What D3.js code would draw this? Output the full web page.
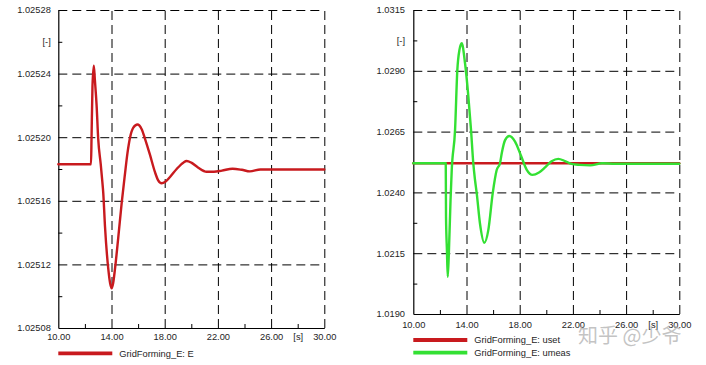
<!DOCTYPE html>
<html><head><meta charset="utf-8">
<script src="https://cdn.jsdelivr.net/npm/d3@7"></script>
<style>
html,body{margin:0;padding:0;background:#fff;}
svg{display:block;font-family:"Liberation Sans",Arial,sans-serif;}
</style></head>
<body>
<svg id="c" width="706" height="365"></svg>
<script>
// ---------- data ----------
const xTickValues = [10, 14, 18, 22, 26, 28, 30];
const xTickLabels = ["10.00", "14.00", "18.00", "22.00", "26.00", "[s]", "30.00"];
const xMinorTicks = [12, 16, 20, 24, 28];
const xGrid = [14, 18, 22, 26, 30];

// left chart: GridForming_E: E
const leftYTicks = [1.02528, 1.02526, 1.02524, 1.02520, 1.02516, 1.02512, 1.02508];
const leftYLabels = ["1.02528", "[-]", "1.02524", "1.02520", "1.02516", "1.02512", "1.02508"];
const leftYMinor = [1.02526, 1.02522, 1.02518, 1.02514, 1.02510];
const leftYGrid = [1.02528, 1.02524, 1.02520, 1.02516, 1.02512];
const eTime = [10, 12.46, 12.5, 12.57, 12.67, 12.75, 12.88, 13.0, 13.19, 13.3, 13.38, 13.51, 13.76, 13.9, 14.01, 14.12, 14.26, 14.51, 14.77, 15.0, 15.2, 15.4, 15.64, 15.95, 16.27, 16.52, 16.89, 17.27, 17.5, 17.77, 18.05, 18.4, 18.9, 19.4, 19.65, 20.0, 20.5, 21.15, 21.7, 22.3, 23.1, 23.8, 24.4, 25.2, 30];
const eValue = [1.025183, 1.025183, 1.025200, 1.025232, 1.025245, 1.025236, 1.025220, 1.025199, 1.025183, 1.025173, 1.025165, 1.025144, 1.025117, 1.025108, 1.025105, 1.025108, 1.025117, 1.025137, 1.025159, 1.025176, 1.025190, 1.025200, 1.025206, 1.025208, 1.025205, 1.025199, 1.025189, 1.025178, 1.025173, 1.025171, 1.025172, 1.025175, 1.025180, 1.025184, 1.025185, 1.025184, 1.025181, 1.0251783, 1.0251783, 1.025179, 1.0251802, 1.0251795, 1.0251785, 1.0251797, 1.0251797];

// right chart: uset / umeas
const rightYTicks = [1.0315, 1.03025, 1.0290, 1.0265, 1.0240, 1.0215, 1.0190];
const rightYLabels = ["1.0315", "[-]", "1.0290", "1.0265", "1.0240", "1.0215", "1.0190"];
const rightYMinor = [1.03025, 1.02775, 1.02525, 1.02275, 1.02025];
const rightYGrid = [1.0315, 1.0290, 1.0265, 1.0240, 1.0215];
const usetTime = [10, 30];
const usetValue = [1.0252, 1.0252];
const umeasTime = [10, 12.44, 12.46, 12.53, 12.59, 12.68, 12.8, 12.89, 13.14, 13.31, 13.47, 13.64, 13.89, 14.14, 14.34, 14.51, 14.64, 14.77, 15.01, 15.34, 15.64, 15.97, 16.27, 16.52, 16.65, 16.9, 17.22, 17.65, 18.09, 18.52, 18.96, 19.45, 19.93, 20.4, 20.9, 21.4, 21.9, 22.5, 23.3, 24.2, 25.2, 30];
const umeasValue = [1.0252, 1.0252, 1.0230, 1.0216, 1.02053, 1.0216, 1.02369, 1.02492, 1.02657, 1.02903, 1.02986, 1.03013, 1.02931, 1.02794, 1.02657, 1.0252, 1.02451, 1.02396, 1.02273, 1.02193, 1.02245, 1.02396, 1.02492, 1.0252, 1.02561, 1.02615, 1.02632, 1.02609, 1.02552, 1.02494, 1.02472, 1.02482, 1.02504, 1.02528, 1.02538, 1.02529, 1.02517, 1.02513, 1.02511, 1.0252, 1.02518, 1.02518];

const legendLeft = ["GridForming_E: E"];
const legendRight = ["GridForming_E: uset", "GridForming_E: umeas"];

// ---------- styles ----------
const RED = "#c81a1e", GREEN = "#33e033";
const FONT = 9.3, TXT = "#1e1e1e";
const svg = d3.select("#c");

function panel(o) {
  const x = d3.scaleLinear().domain([10, 30]).range([o.x0, o.x1]);
  const y = d3.scaleLinear().domain(o.yDomain).range([o.y1, o.y0]);
  const g = svg.append("g");
  const w = o.x1 - o.x0, h = o.y1 - o.y0;

  // dashed grid
  g.append("g").attr("transform", `translate(${o.x0},0)`)
    .call(d3.axisLeft(y).tickValues(o.yGrid).tickSize(-w).tickFormat(""))
    .call(s => { s.select(".domain").remove(); s.selectAll("line").attr("stroke", "#000").attr("stroke-dasharray", "9,5"); });
  g.append("g").attr("transform", `translate(0,${o.y1})`)
    .call(d3.axisBottom(x).tickValues(xGrid).tickSize(-h).tickFormat(""))
    .call(s => { s.select(".domain").remove(); s.selectAll("line").attr("stroke", "#000").attr("stroke-dasharray", "9,5"); });

  // minor ticks (inward)
  g.append("g").attr("transform", `translate(${o.x0},0)`)
    .call(d3.axisLeft(y).tickValues(o.yMinor).tickSize(-4).tickFormat(""))
    .call(s => { s.select(".domain").remove(); s.selectAll("line").attr("stroke", "#000"); });
  g.append("g").attr("transform", `translate(0,${o.y1})`)
    .call(d3.axisBottom(x).tickValues(xMinorTicks).tickSize(-4).tickFormat(""))
    .call(s => { s.select(".domain").remove(); s.selectAll("line").attr("stroke", "#000"); });

  // axis lines + labels
  g.append("g").attr("transform", `translate(${o.x0},0)`)
    .call(d3.axisLeft(y).tickValues(o.yTicks).tickSize(0).tickPadding(o.yPad)
      .tickFormat((d, i) => o.yLabels[i]))
    .call(s => {
      s.select(".domain").attr("stroke", "#000").attr("stroke-width", 1.2);
      s.selectAll("text").attr("font-size", FONT).attr("fill", TXT).attr("font-family", "Liberation Sans, Arial, sans-serif");
    });
  g.append("g").attr("transform", `translate(0,${o.y1})`)
    .call(d3.axisBottom(x).tickValues(xTickValues).tickSize(0).tickPadding(o.xPad)
      .tickFormat((d, i) => xTickLabels[i]))
    .call(s => {
      s.select(".domain").attr("stroke", "#000").attr("stroke-width", 1.2);
      s.selectAll("text").attr("font-size", FONT).attr("fill", TXT).attr("font-family", "Liberation Sans, Arial, sans-serif");
    });

  const line = d3.line().x(d => x(d[0])).y(d => y(d[1])).curve(d3.curveMonotoneX);
  o.series.forEach(sr => {
    const pts = sr.t.map((t, i) => [t, sr.v[i]]);
    g.append("path").attr("d", line(pts)).attr("fill", "none")
      .attr("stroke", sr.color).attr("stroke-width", 2.4)
      .attr("stroke-linejoin", "round").attr("stroke-linecap", "round");
  });

  // legend
  o.legend.forEach((lab, i) => {
    const ly = o.legY + i * o.legStep;
    g.append("line").attr("x1", o.x0).attr("x2", o.x0 + 54).attr("y1", ly).attr("y2", ly)
      .attr("stroke", o.legColors[i]).attr("stroke-width", 3.8);
    g.append("text").attr("x", o.x0 + 61).attr("y", ly).attr("dy", "0.35em")
      .attr("font-size", FONT).attr("fill", TXT).text(lab);
  });
}

panel({
  x0: 58.3, x1: 324.3, y0: 10, y1: 328,
  yDomain: [1.02508, 1.02528], yTicks: leftYTicks, yLabels: leftYLabels,
  yMinor: leftYMinor, yGrid: leftYGrid, yPad: 7.5, xPad: 5.5,
  series: [{ t: eTime, v: eValue, color: RED }],
  legend: legendLeft, legColors: [RED], legY: 353.3, legStep: 0
});

panel({
  x0: 413.3, x1: 679.3, y0: 10, y1: 314,
  yDomain: [1.0190, 1.0315], yTicks: rightYTicks, yLabels: rightYLabels,
  yMinor: rightYMinor, yGrid: rightYGrid, yPad: 8.3, xPad: 7.5,
  series: [{ t: usetTime, v: usetValue, color: RED }, { t: umeasTime, v: umeasValue, color: GREEN }],
  legend: legendRight, legColors: [RED, GREEN], legY: 340, legStep: 12.7
});

// watermark (overlaps the axis labels, as in the reference)
svg.append("text").attr("x", 578).attr("y", 343)
  .attr("font-family", "Noto Sans CJK SC, sans-serif").attr("font-size", 20)
  .attr("fill", "#b0b0b0").attr("fill-opacity", 0.75)
  .text("知乎 @少爷");
</script>
</body></html>
